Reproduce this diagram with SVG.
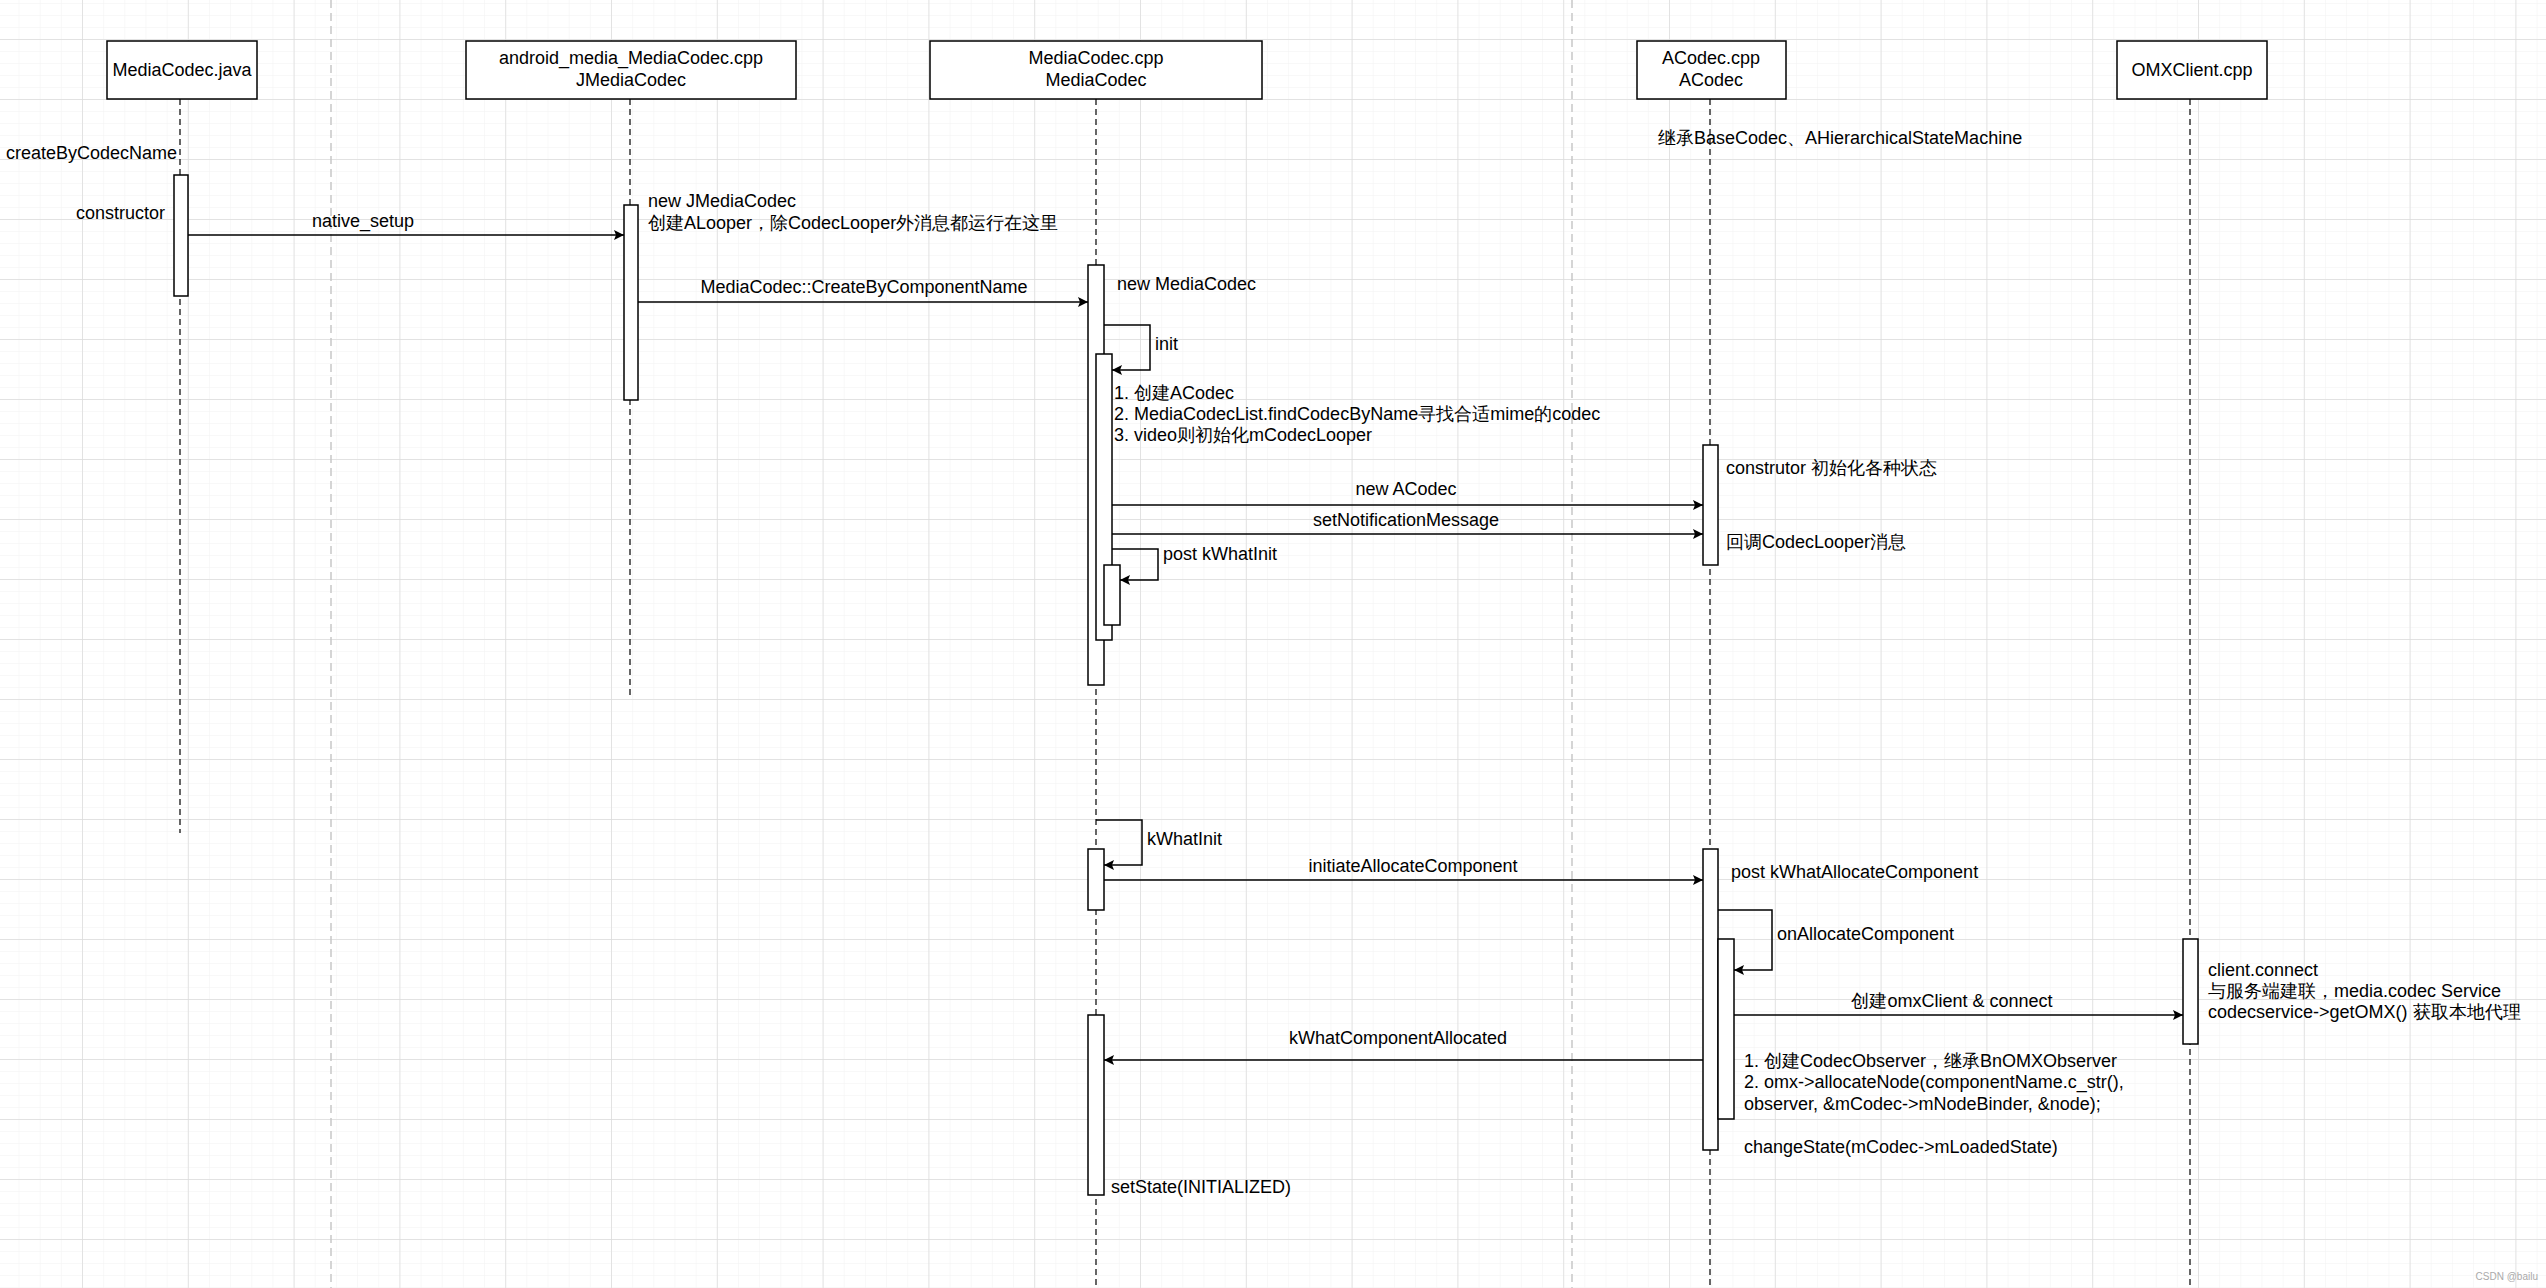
<svg xmlns="http://www.w3.org/2000/svg" width="2546" height="1288" viewBox="0 0 2546 1288">
<defs>
<pattern id="minor" x="82" y="39" width="21.16" height="12" patternUnits="userSpaceOnUse"><path d="M0 0V12M0 0H21.16" stroke="#f2f2f2" stroke-width="1" fill="none"/></pattern>
<pattern id="major" x="82" y="39" width="105.8" height="60" patternUnits="userSpaceOnUse"><path d="M0 0V60M0 0H105.8" stroke="#dcdcdc" stroke-width="1.5" fill="none"/></pattern>
<marker id="ar" viewBox="0 0 10 10" refX="10" refY="5" markerWidth="10" markerHeight="10" markerUnits="userSpaceOnUse" orient="auto"><path d="M0 0L10 5L0 10L2 5Z" fill="#000"/></marker>
</defs>
<style>
text{font-family:"Liberation Sans",Arial,sans-serif;font-size:18px;fill:#000}
.c{text-anchor:middle}
.box{fill:#fff;stroke:#000;stroke-width:1.5}
.act{fill:#fff;stroke:#000;stroke-width:1.5}
.life{stroke:#000;stroke-width:1.2;stroke-dasharray:6 4;fill:none}
.gdash{stroke:#c8c8c8;stroke-width:1.5;stroke-dasharray:8 5}
.msg{stroke:#000;stroke-width:1.5;fill:none;marker-end:url(#ar)}
</style>
<rect width="2546" height="1288" fill="#fff"/>
<rect width="2546" height="1288" fill="url(#minor)"/>
<rect width="2546" height="1288" fill="url(#major)"/>
<line class="gdash" x1="331" y1="0" x2="331" y2="1288"/>
<line class="gdash" x1="1572" y1="0" x2="1572" y2="1288"/>

<g id="lifelines">
<line class="life" x1="180" y1="99" x2="180" y2="833"/>
<line class="life" x1="630" y1="99" x2="630" y2="698"/>
<line class="life" x1="1096" y1="99" x2="1096" y2="1288"/>
<line class="life" x1="1710" y1="99" x2="1710" y2="1288"/>
<line class="life" x1="2190" y1="99" x2="2190" y2="1288"/>
</g>

<g id="java"><rect class="box" x="107" y="41" width="150" height="58"/><text class="c" x="182" y="76">MediaCodec.java</text></g>
<g id="jmediacodec"><rect class="box" x="466" y="41" width="330" height="58"/><text class="c" x="631" y="64">android_media_MediaCodec.cpp</text><text class="c" x="631" y="86">JMediaCodec</text></g>
<g id="mediacodec"><rect class="box" x="930" y="41" width="332" height="58"/><text class="c" x="1096" y="64">MediaCodec.cpp</text><text class="c" x="1096" y="86">MediaCodec</text></g>
<g id="acodec"><rect class="box" x="1637" y="41" width="149" height="58"/><text class="c" x="1711" y="64">ACodec.cpp</text><text class="c" x="1711" y="86">ACodec</text></g>
<g id="omxclient"><rect class="box" x="2117" y="41" width="150" height="58"/><text class="c" x="2192" y="76">OMXClient.cpp</text></g>

<g id="activations">
<rect class="act" x="174" y="175" width="14" height="121"/>
<rect class="act" x="624" y="205" width="14" height="195"/>
<rect class="act" x="1088" y="265" width="16" height="420"/>
<rect class="act" x="1096" y="354" width="16" height="286"/>
<rect class="act" x="1104" y="565" width="16" height="60"/>
<rect class="act" x="1703" y="445" width="15" height="120"/>
<rect class="act" x="1088" y="849" width="16" height="61"/>
<rect class="act" x="1088" y="1015" width="16" height="180"/>
<rect class="act" x="1703" y="849" width="15" height="301"/>
<rect class="act" x="1718" y="939" width="16" height="180"/>
<rect class="act" x="2183" y="939" width="15" height="105"/>
</g>

<g id="connectors">
<line class="msg" x1="188" y1="235" x2="624" y2="235"/>
<line class="msg" x1="638" y1="302" x2="1088" y2="302"/>
<path class="msg" d="M1104 325H1150V370H1112"/>
<line class="msg" x1="1112" y1="505" x2="1703" y2="505"/>
<line class="msg" x1="1112" y1="534" x2="1703" y2="534"/>
<path class="msg" d="M1112 549H1158V580H1120"/>
<path class="msg" d="M1096 820H1142V865H1104"/>
<line class="msg" x1="1104" y1="880" x2="1703" y2="880"/>
<path class="msg" d="M1718 910H1772V970H1734"/>
<line class="msg" x1="1734" y1="1015" x2="2183" y2="1015"/>
<line class="msg" x1="1703" y1="1060" x2="1104" y2="1060"/>
</g>

<g id="labels">
<text x="6" y="159">createByCodecName</text>
<text x="76" y="219">constructor</text>
<text class="c" x="363" y="227">native_setup</text>
<text x="648" y="207">new JMediaCodec</text>
<text x="648" y="229">创建ALooper，除CodecLooper外消息都运行在这里</text>
<text class="c" x="864" y="293">MediaCodec::CreateByComponentName</text>
<text x="1117" y="290">new MediaCodec</text>
<text x="1155" y="350">init</text>
<text x="1114" y="399">1. 创建ACodec</text>
<text x="1114" y="420">2. MediaCodecList.findCodecByName寻找合适mime的codec</text>
<text x="1114" y="441">3. video则初始化mCodecLooper</text>
<text class="c" x="1406" y="495">new ACodec</text>
<text class="c" x="1406" y="526">setNotificationMessage</text>
<text x="1163" y="560">post kWhatInit</text>
<text x="1658" y="144">继承BaseCodec、AHierarchicalStateMachine</text>
<text x="1726" y="474">construtor 初始化各种状态</text>
<text x="1726" y="548">回调CodecLooper消息</text>
<text x="1147" y="845">kWhatInit</text>
<text class="c" x="1413" y="872">initiateAllocateComponent</text>
<text x="1731" y="878">post kWhatAllocateComponent</text>
<text x="1777" y="940">onAllocateComponent</text>
<text class="c" x="1952" y="1007">创建omxClient &amp; connect</text>
<text x="2208" y="976">client.connect</text>
<text x="2208" y="997">与服务端建联，media.codec Service</text>
<text x="2208" y="1018">codecservice-&gt;getOMX() 获取本地代理</text>
<text class="c" x="1398" y="1044">kWhatComponentAllocated</text>
<text x="1744" y="1067">1. 创建CodecObserver，继承BnOMXObserver</text>
<text x="1744" y="1088">2. omx-&gt;allocateNode(componentName.c_str(),</text>
<text x="1744" y="1110"> observer, &amp;mCodec-&gt;mNodeBinder, &amp;node);</text>
<text x="1744" y="1153">changeState(mCodec-&gt;mLoadedState)</text>
<text x="1111" y="1193">setState(INITIALIZED)</text>
<text x="2538" y="1280" style="font-size:10px;fill:#aaa;text-anchor:end">CSDN @bailu</text>
</g>
</svg>
